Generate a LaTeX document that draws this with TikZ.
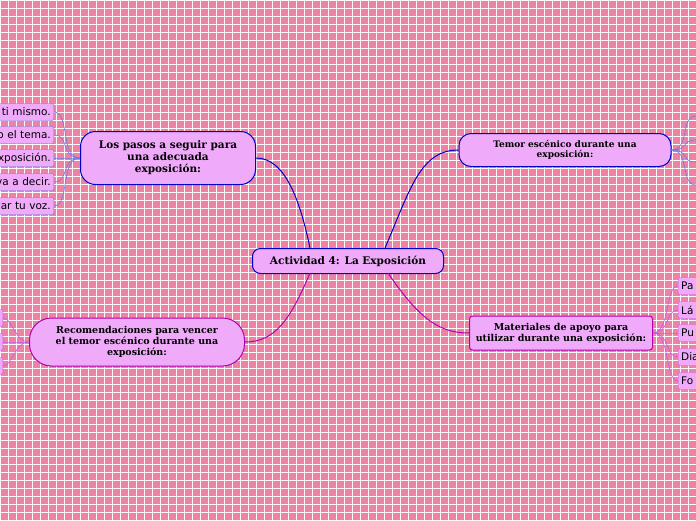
\documentclass[tikz,border=0pt]{standalone}
\usepackage{fontspec}
\setmainfont{DejaVu Serif}
\newfontfamily\kidfont{DejaVu Sans}
\begin{document}
\begin{tikzpicture}[x=1pt,y=-1pt,
  main/.style={draw=blue!80!black, line width=1pt, fill=nodefill, rounded corners=13pt, font=\bfseries\fontsize{10.5}{12}\selectfont, align=center, inner sep=2pt},
  mainp/.style={main, draw=violet!60!magenta},
  kid/.style={draw=kidblue, fill=nodefill, rounded corners=2pt, font=\kidfont\fontsize{10.5}{12}\selectfont, minimum height=17pt, inner sep=3pt, text width=120pt, align=right},
  kidp/.style={kid, draw=kidpurple, align=left},
  bl/.style={draw=blue!80!black, line width=1pt},
  pl/.style={draw=violet!60!magenta, line width=1pt},
  kb/.style={draw=kidblue, line width=0.6pt},
  kp/.style={draw=kidpurple, line width=0.6pt}]
\definecolor{bg}{RGB}{238,130,162}
\definecolor{nodefill}{RGB}{240,170,250}
\definecolor{kidblue}{RGB}{112,120,230}
\definecolor{kidpurple}{RGB}{200,90,230}
\useasboundingbox (0,0) rectangle (696,520);
\fill[bg] (0,0) rectangle (696,520);
\foreach \g in {0,8,...,696}{\draw[white!95!bg, line width=0.4pt] (\g,0) -- (\g,520);}
\foreach \g in {0,8,...,520}{\draw[white!95!bg, line width=0.4pt] (0,\g) -- (696,\g);}

\node[main, minimum width=191pt, minimum height=25pt, rounded corners=8pt] (c) at (348,261) {Actividad 4: La Exposición};
\node[main, minimum width=175pt, minimum height=53pt, rounded corners=15pt] (lp) at (168,158) {Los pasos a seguir para\\una adecuada\\exposición:};
\node[main, minimum width=212pt, minimum height=33pt, rounded corners=12pt, font=\bfseries\fontsize{9}{10}\selectfont] (te) at (565,150) {Temor escénico durante una\\exposición:};
\node[mainp, minimum width=183pt, minimum height=34pt, rounded corners=3pt, font=\bfseries\fontsize{9.5}{11}\selectfont] (ma) at (561,333) {Materiales de apoyo para\\utilizar durante una exposición:};
\node[mainp, minimum width=215pt, minimum height=48pt, rounded corners=22pt, font=\bfseries\fontsize{9.5}{11}\selectfont] (re) at (137,342) {Recomendaciones para vencer\\el temor escénico durante una\\exposición:};

\draw[bl] (310,248) .. controls (300,200) and (285,158) .. (lp.east);
\draw[bl] (385,248) .. controls (410,190) and (420,150) .. (te.west);
\draw[pl] (310,273) .. controls (290,320) and (275,342) .. (re.east);
\draw[pl] (388,273) .. controls (420,320) and (440,333) .. (ma.west);

\foreach \y/\t [count=\i] in {112/ti mismo., 135/o el tema., 158/xposición., 182/va a decir., 206/ar tu voz.}{
  \node[kid, anchor=east] (l\i) at (54,\y) {\t};
  \draw[kb] (lp.west) .. controls (60,158) and (70,\y) .. (l\i.east);
}
\foreach \y [count=\i] in {116,140,162,185}{
  \coordinate (t\i) at (696,\y);
  \draw[kb] (te.east) .. controls (690,150) and (680,\y) .. (t\i);
}
\foreach \y/\t [count=\i] in {286/Pa, 310/Lá, 333/Pu, 357/Dia, 381/Fo}{
  \node[kidp, anchor=west] (m\i) at (678,\y) {\t};
  \draw[kp] (ma.east) .. controls (670,333) and (665,\y) .. (m\i.west);
}
\foreach \y [count=\i] in {318,342,366}{
  \node[kidp, anchor=east] (r\i) at (3,\y) {};
  \draw[kp] (re.west) .. controls (15,342) and (12,\y) .. (r\i.east);
}
\end{tikzpicture}
\end{document}
